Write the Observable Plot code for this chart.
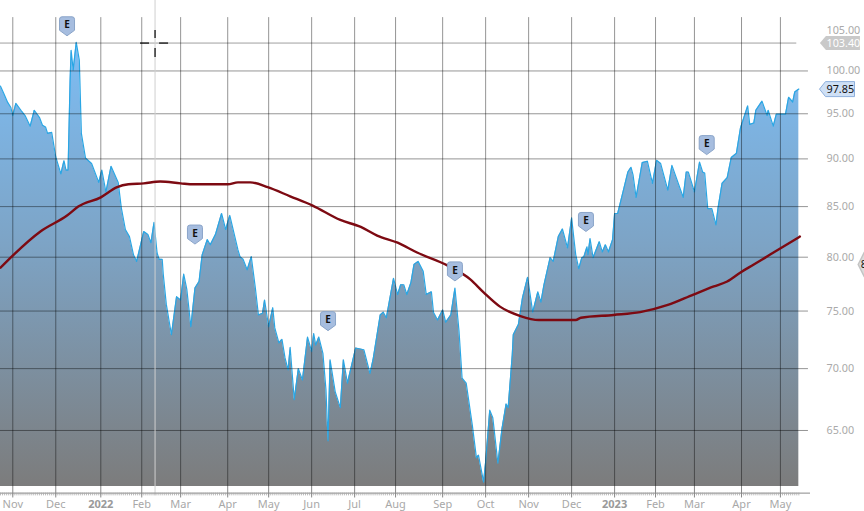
<!DOCTYPE html>
<html>
<head>
<meta charset="utf-8">
<script src="https://cdn.jsdelivr.net/npm/d3@7"></script>
<script src="https://cdn.jsdelivr.net/npm/@observablehq/plot@0.6"></script>
<style>html,body{margin:0;padding:0;background:#fff;overflow:hidden}svg{display:block}</style>
</head>
<body>
<div id="chart"></div>
<script>
// x is the trading-session number counted from the chart's left edge
const monthLabels = ["Nov","Dec","2022","Feb","Mar","Apr","May","Jun","Jul","Aug","Sep","Oct","Nov","Dec","2023","Feb","Mar","Apr","May"];
const monthSessions = [6,27,49,69,88,111,131,152,173,193,216,237,258,279,300,320,339,362,381];
const priceTicks = [65,70,75,80,85,90,95,100];
const priceLabels = [65,70,75,80,85,90,95,100,105];

const closeSessions = [0,1.5,3.5,5,6,7.5,10,12,14.5,16.5,19,20.5,22,23,25,27,29.5,31,32,33,34,34.5,35.5,37,38.5,39.5,41.5,44.5,48,49.5,51.5,54,57.5,59,61,63,65,66.5,70,72,73.5,75,76.5,77.5,79,79.5,81,83.5,86,88,89.5,91,93,95,97,98.5,101,102.5,105,108,110,112,116,117,118.5,120.5,122.5,124.5,126,128,129,131,133,134,136,137.5,139,140.5,141.5,143.5,145.5,147.5,150,152,153,154,155.5,157.5,159,160,161,163.5,166,167.5,169.5,173.5,177.5,180.5,182,185.5,187,188.5,192,194,195.5,197,198.5,200.5,202,204,206.5,208,210.5,211.5,213.5,216,217.5,220,222,224,225.5,227.5,230.5,232.5,233.5,236,237,239,240.5,243,245,247,248,250,250.5,253,255,257.5,260,262.5,264,265.5,268.5,270,272.5,274.5,277,279,280,281,282.5,284,285,286.5,287,288,289.5,292.5,294,295.5,297,299,300,301.5,304,306.5,308,309,310.5,313.5,316,318.5,320.5,322.5,326,328,333.5,335,336,339,341.5,343,344,345.5,347.5,349.5,350.5,352.5,355,357,359.5,361.5,365,366,368,369,372,374.5,375,377.5,379,383.5,385,387,388,390];
const closes = [98.2,97.4,96.3,95.75,94.8,96.2,95.4,94.8,93.6,95.4,94.6,93.7,93.5,92.8,92.9,90.2,88.4,89.8,88.8,88.8,98.9,102.5,100.1,103.5,101.3,92.8,90.1,89.5,87.5,88.8,86.5,89.2,87.5,84.9,82.7,82,80.2,79.6,82.5,82.2,81.4,83.4,80.4,79.8,79.8,78.4,75.6,72.9,76.3,76,78.4,77,73.6,77.1,77.7,80.2,81.7,81.2,82.2,84.3,82.7,84.1,80.7,80.05,79.8,78.8,80.05,77.1,74.65,74.8,76,73.6,75.3,73.5,72.2,72.5,70.9,69.9,71.8,67.45,70,69.05,72.7,71.45,73,72,72.7,71.3,68.25,64.2,70.75,68.1,66.8,70.75,68.8,71.75,71.6,69.6,70.75,74.65,74.9,74.4,78,76.5,77.4,77.4,76.5,77.6,79.3,79.6,78.65,76.5,76.75,74.9,74.2,75.1,74,74.65,77.1,73.2,69.2,68.8,65.4,62.9,63.1,61.1,62.6,66.6,66,62.5,65.15,67.1,66.8,71.15,72.9,73.8,76.2,78.1,74.9,76.75,75.8,77.4,79.95,79.6,82,82.75,80.9,83.85,82,80.25,78.9,79.95,80.05,81,80.25,81.8,79.95,81.5,80.5,81.2,80.5,81.7,84.3,84.3,86.4,88.6,89.1,88.3,85.95,89.6,89.75,87.4,89.85,89.5,86.7,89.3,85.95,88.6,88.6,86.5,89.65,88.6,88.5,84.8,84.8,83.15,84.8,87.4,88,90.15,90.6,93.4,95.9,93.8,93.95,95.4,96.45,94.8,95.4,93.6,94.95,94.95,96.9,96.35,97.5,97.85];

const maSessions = [0,6.5,19.5,32.5,38,49,57,62.5,70,78,88,94.5,111,116,122,130.5,141.5,152.5,166,176,184,194,203.5,218.5,229.5,236,244,254,263,281,283.5,299.5,312.5,326,338.5,348.5,355,361.5,368,376,390.5];
const maValues = [79,80.25,82.5,84.1,85,85.95,87,87.3,87.4,87.6,87.4,87.3,87.3,87.5,87.5,87,86.05,85.1,83.65,82.95,82.1,81.4,80.45,79.2,77.9,76.7,75.4,74.55,74.2,74.2,74.4,74.65,74.9,75.55,76.5,77.25,77.7,78.55,79.3,80.25,82];

const earningsSessions = [32.5,95,160,222,286,345];
const earningsLevels = [105.5,82.2,74.1,78.65,83.45,91.5];

const crossSession = 75.5, crossPrice = 103.4, lastPrice = 97.85, avgTagLevel = 79.3;

const closeRows = closeSessions.map((s,i)=>({s, v:closes[i]}));
const maRows = maSessions.map((s,i)=>({s, v:maValues[i]}));
const flagRows = earningsSessions.map((s,i)=>({s, v:earningsLevels[i]}));
const monthRows = monthSessions.map((s,i)=>({s, label:monthLabels[i], year:/^\d/.test(monthLabels[i])}));

const yLow = 60.78, yHigh = 108.81;
const gridTop = 106.6, axisLevel = 60.3, minorEnd = 60.1, majorEnd = 59.95, labelLevel = 59.48;
const gridEnd = 394.7, axisEnd = 395.7, labelSession = 403.5;

const shield = {draw(c){
  c.moveTo(-5,-9.5); c.lineTo(5,-9.5); c.quadraticCurveTo(7.5,-9.5,7.5,-7); c.lineTo(7.5,4);
  c.lineTo(0,9.5); c.lineTo(-7.5,4); c.lineTo(-7.5,-7); c.quadraticCurveTo(-7.5,-9.5,-5,-9.5); c.closePath();
}};
const tag = (w,h)=>({draw(c){
  c.moveTo(0,0); c.lineTo(6,-h/2); c.lineTo(w,-h/2); c.lineTo(w,h/2); c.lineTo(6,h/2); c.closePath();
}});

const font = "'Noto Sans', 'Open Sans', sans-serif";
const defs = () => {
  const d = d3.create("svg:defs");
  const g = d.append("linearGradient").attr("id","areaFill").attr("x1",0).attr("x2",0).attr("y1",0).attr("y2",1);
  g.append("stop").attr("offset","0%").attr("stop-color","#7dbdf4");
  g.append("stop").attr("offset","45%").attr("stop-color","#7da4c6");
  g.append("stop").attr("offset","100%").attr("stop-color","#7c7c7c");
  return d.node();
};

const plot = Plot.plot({
  width:864, height:511, marginTop:0, marginBottom:25, marginLeft:0, marginRight:0,
  style:{background:"#fff", fontFamily:font},
  x:{type:"linear", domain:[0,422.08], range:[0,864], axis:null},
  y:{type:"log", domain:[yLow,yHigh], range:[486,0], axis:null},
  marks:[
    defs,
    Plot.areaY(closeRows,{x:"s", y1:()=>yLow, y2:"v", fill:"url(#areaFill)"}),
    Plot.line(closeRows,{x:"s", y:"v", stroke:"#2aa6e4", strokeWidth:1.2}),
    // grid
    Plot.ruleY(priceTicks,{y:d=>d, x1:0, x2:gridEnd, stroke:"#000", strokeOpacity:0.42, strokeWidth:1}),
    Plot.ruleY([crossPrice],{y:d=>d, x1:0, x2:389, stroke:"#000", strokeOpacity:0.38, strokeWidth:1}),
    Plot.ruleX(monthRows,{x:"s", y1:gridTop, y2:yLow, stroke:"#000", strokeOpacity:0.42, strokeWidth:1}),
    // crosshair
    Plot.ruleX([crossSession],{x:d=>d, y1:yHigh, y2:minorEnd, stroke:"#cfcfcf", strokeWidth:1}),
    Plot.ruleX([crossSession],{x:d=>d, y1:104.97, y2:103.97, stroke:"#000", strokeWidth:1.2}),
    Plot.ruleX([crossSession],{x:d=>d, y1:102.73, y2:101.63, stroke:"#000", strokeWidth:1.2}),
    Plot.ruleY([crossPrice],{y:d=>d, x1:68.4, x2:72.8, stroke:"#000", strokeWidth:1.2}),
    Plot.ruleY([crossPrice],{y:d=>d, x1:77.7, x2:82.1, stroke:"#000", strokeWidth:1.2}),
    // moving average
    Plot.line(maRows,{x:"s", y:"v", stroke:"#7d0a12", strokeWidth:2.4, curve:"monotone-x"}),
    // earnings flags
    Plot.dot(flagRows,{x:"s", y:"v", r:5, symbol:shield, fill:"#a6bddf", stroke:"#8ba5c9", strokeWidth:1}),
    Plot.text(flagRows,{x:"s", y:"v", text:()=>"E", dy:-1, fill:"#111", fontSize:10, fontWeight:"bold", fontFamily:font}),
    // x axis
    Plot.ruleY([axisLevel],{y:d=>d, x1:0, x2:axisEnd, stroke:"#888", strokeWidth:1}),
    Plot.ruleX(d3.range(0,391),{x:d=>d, y1:axisLevel, y2:minorEnd, stroke:"#aaa", strokeWidth:0.8}),
    Plot.ruleX(monthRows,{x:"s", y1:yLow, y2:majorEnd, stroke:"#888", strokeWidth:1}),
    Plot.text(monthRows.filter(d=>!d.year),{x:"s", y:()=>labelLevel, text:"label", fill:"#a8a8a8", fontSize:11, fontFamily:font}),
    Plot.text(monthRows.filter(d=>d.year),{x:"s", y:()=>labelLevel, text:"label", fill:"#9a9a9a", fontSize:11, fontWeight:"bold", fontFamily:font}),
    // price axis
    Plot.text(priceLabels,{x:()=>labelSession, y:d=>d, text:d=>d.toFixed(2), textAnchor:"start", fill:"#aaa", fontSize:10.8, fontFamily:font}),
    Plot.dot([crossPrice],{x:()=>400.3, y:d=>d, r:5, symbol:tag(40,14), fill:"#c9c9c9"}),
    Plot.text([crossPrice],{x:()=>labelSession, y:d=>d, text:d=>d.toFixed(2), textAnchor:"start", fill:"#fff", fontSize:10.8, fontFamily:font}),
    Plot.dot([lastPrice],{x:()=>400.1, y:d=>d, r:5, symbol:tag(35,15), fill:"#cfe0f5", stroke:"#8fb0dc", strokeWidth:1}),
    Plot.text([lastPrice],{x:()=>labelSession, y:d=>d, text:d=>d.toFixed(2), textAnchor:"start", fill:"#111", fontSize:10.8, fontFamily:font}),
    Plot.dot([avgTagLevel],{x:()=>419, y:d=>d, r:5, symbol:tag(14,24), fill:"#dcdcdc", stroke:"#c4c4c4"}),
    Plot.text([avgTagLevel],{x:()=>420.3, y:d=>d, text:()=>"82.00", textAnchor:"start", fill:"#111", fontSize:10.8, fontFamily:font})
  ]
});
document.getElementById("chart").appendChild(plot);
</script>
</body>
</html>
